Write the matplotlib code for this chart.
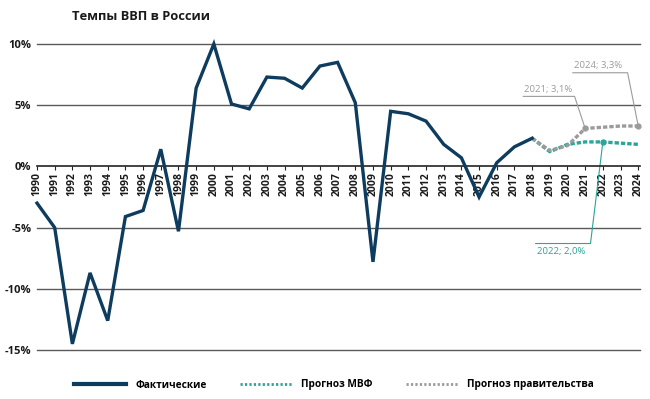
import numpy as np
import matplotlib.pyplot as plt
from matplotlib.lines import Line2D

plt.rcParams['font.family'] = ['Open Sans', 'DejaVu Sans']

years = np.arange(1990, 2019)
actual = [-3.0, -5.0, -14.5, -8.7, -12.6, -4.1, -3.6, 1.4, -5.3, 6.4,
          10.0, 5.1, 4.7, 7.3, 7.2, 6.4, 8.2, 8.5, 5.2, -7.8,
          4.5, 4.3, 3.7, 1.8, 0.7, -2.5, 0.3, 1.6, 2.3]

fc_years = np.arange(2018, 2025)
imf = [2.3, 1.2, 1.8, 2.0, 2.0, 1.9, 1.8]
gov = [2.3, 1.3, 1.7, 3.1, 3.2, 3.3, 3.3]

navy = '#0e3c5f'
teal = '#2aa597'
grey = '#9b9b9b'

fig = plt.figure(figsize=(6.5, 3.99), dpi=100)
ax = fig.add_axes([37/650, (399-350)/399, (640-37)/650, (350-44)/399])

ax.set_xlim(1990, 2024.1)
ax.set_ylim(-15, 10)
for v in [10, 5, -5, -10, -15]:
    ax.axhline(v, color='#5a5a5a', lw=1, zorder=1, clip_on=False)

ax.plot(fc_years, imf, color=teal, lw=2.4, ls=(0, (1.3, 0.6)), zorder=3, clip_on=False)
ax.plot(fc_years, gov, color=grey, lw=2.4, ls=(0, (1.3, 0.6)), zorder=3, clip_on=False)
ax.plot(years, actual, color=navy, lw=2.4, zorder=4, clip_on=False,
        solid_joinstyle='miter')

ax.plot([2021, 2024], [gov[3], gov[6]], 'o', color=grey, ms=3.5, zorder=5, clip_on=False)
ax.plot([2022], [imf[4]], 'o', color=teal, ms=3.5, zorder=5, clip_on=False)

# подписи прогнозов
ax.text(2017.55, 5.95, '2021; 3,1%', color=grey, fontsize=6.8, ha='left', va='bottom', zorder=6)
ax.plot([2017.5, 2020.4, 2021], [5.72, 5.72, gov[3]], color=grey, lw=0.8, zorder=2)
ax.text(2020.35, 7.9, '2024; 3,3%', color=grey, fontsize=6.8, ha='left', va='bottom', zorder=6)
ax.plot([2020.3, 2023.4, 2024], [7.65, 7.65, gov[6]], color=grey, lw=0.8, zorder=2)
ax.text(2018.25, -6.55, '2022; 2,0%', color=teal, fontsize=6.8, ha='left', va='top', zorder=6)
ax.plot([2018.2, 2021.3, 2022], [-6.3, -6.3, imf[4]], color=teal, lw=0.8, zorder=2)

for s in ['top', 'right', 'left']:
    ax.spines[s].set_visible(False)
ax.spines['bottom'].set_position(('data', 0))
ax.spines['bottom'].set_color('#222222')
ax.spines['bottom'].set_linewidth(1.2)
ax.spines['bottom'].set_zorder(2)

ax.set_xticks(np.arange(1990, 2025))
ax.set_xticklabels([str(y) for y in range(1990, 2025)], rotation=90,
                   fontsize=7.5, fontweight='bold', color='#1a1a1a')
ax.tick_params(axis='x', direction='out', length=3, width=0.8, pad=1, color='#222222')
ax.set_yticks([10, 5, 0, -5, -10, -15])
ax.set_yticklabels(['10%', '5%', '0%', '-5%', '-10%', '-15%'],
                   fontsize=8, fontweight='bold', color='#1a1a1a')
ax.tick_params(axis='y', length=0, pad=4)

fig.text(72/650, 1 - 16/399, 'Темпы ВВП в России', fontsize=9.3, fontweight='bold',
         color='#1a1a1a', ha='left', va='center')

handles = [Line2D([], [], color=navy, lw=3),
           Line2D([], [], color=teal, lw=2, ls=(0, (0.8, 0.8))),
           Line2D([], [], color=grey, lw=2, ls=(0, (0.8, 0.8)))]
labels = ['Фактические', 'Прогноз МВФ', 'Прогноз правительства']
fig.legend(handles, labels, loc='center', bbox_to_anchor=(334/650, 1 - 385/399),
           ncol=3, frameon=False, handlelength=5.1, columnspacing=3.3, handletextpad=0.9,
           prop={'size': 7.3, 'weight': 'bold'})

fig.savefig('out.png', dpi=100)
